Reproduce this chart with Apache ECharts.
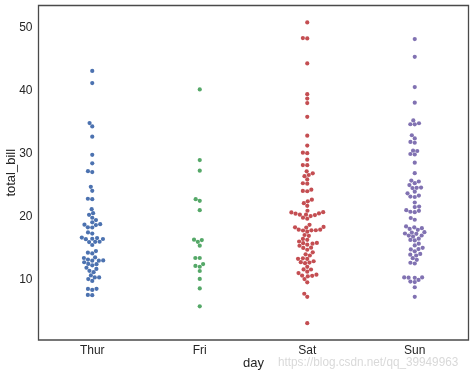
<!DOCTYPE html>
<html><head><meta charset="utf-8">
<script src="https://cdn.jsdelivr.net/npm/echarts@6/dist/echarts.min.js"></script>
<style>html,body{margin:0;padding:0;background:#fff}#c{width:474px;height:376px}</style>
</head><body><div id="c"></div>
<script>
const categories = ['Thur', 'Fri', 'Sat', 'Sun'];
const thurBills = [27.2,22.76,17.29,19.44,16.66,10.07,32.68,15.98,34.83,13.03,18.28,24.71,21.16,
  10.65,12.43,24.08,11.69,13.42,14.26,15.95,12.48,29.8,8.52,14.52,11.38,22.82,19.08,20.27,11.17,12.26,18.26,8.51,10.33,14.15,16.0,13.16,17.47,34.3,41.19,27.05,16.43,8.35,18.64,11.87,9.78,7.51,
  19.81,28.44,15.48,16.58,7.56,10.34,43.11,13.0,13.51,18.71,12.74,13.0,16.4,20.53,16.47,18.78];
const friBills = [28.97,22.49,5.75,16.32,22.75,40.17,27.28,12.03,21.01,12.46,11.35,15.38,
  12.16,13.42,8.58,15.98,13.42,16.27,10.09];
const satBills = [20.65,17.92,20.29,15.77,39.42,19.82,17.81,13.37,12.69,21.7,19.65,9.55,18.35,15.06,20.69,17.78,24.06,16.31,16.93,18.69,31.27,16.04,
  38.01,26.41,11.24,48.27,20.29,13.81,11.02,18.29,17.59,20.08,16.45,3.07,20.23,15.01,12.02,17.07,26.86,25.28,14.73,10.51,17.92,
  44.3,22.42,20.92,15.36,20.49,25.21,18.24,14.31,14.0,7.25,
  10.59,10.63,50.81,15.81,
  26.59,38.73,24.27,12.76,30.06,25.89,48.33,13.27,28.17,12.9,28.15,11.59,7.74,30.14,
  20.45,13.28,22.12,24.01,15.69,11.61,10.77,15.53,10.07,12.6,32.83,35.83,29.03,27.18,22.67,17.82];
const sunBills = [16.99,10.34,21.01,23.68,24.59,25.29,8.77,26.88,15.04,14.78,10.27,35.26,15.42,18.43,14.83,21.58,10.33,16.29,16.97,
  17.46,13.94,9.68,30.4,18.29,22.23,32.4,28.55,18.04,12.54,10.29,34.81,9.94,25.56,19.49,
  38.07,23.95,25.71,17.31,29.93,
  14.07,13.13,17.26,24.55,19.77,29.85,48.17,25.0,13.39,16.49,21.5,12.66,16.21,13.81,17.51,24.52,20.76,31.71,
  7.25,31.85,16.82,32.9,17.89,14.48,9.6,34.63,34.65,23.33,45.35,23.17,40.55,20.69,20.9,30.46,18.15,23.1,15.69];
const yTickValues = [10, 20, 30, 40, 50];
const groups = [thurBills, friBills, satBills, sunBills];

const palette = ['#4C72B0', '#55A868', '#C44E52', '#8172B2'];
const FONT = '"Liberation Sans", Arial, sans-serif';
const DOT = 4.2;      // swarm collision diameter (px)
const MARK = 4.2;     // drawn marker size (px)

const chart = echarts.init(document.getElementById('c'), null, {renderer: 'canvas'});
chart.setOption({
  animation: false,
  backgroundColor: '#ffffff',
  grid: {left: 38.5, right: 5.5, top: 5.5, bottom: 36, containLabel: false, outerBoundsMode: 'none',
    show: true, borderColor: '#4a4a4a', borderWidth: 1.3, backgroundColor: '#ffffff'},
  xAxis: [
    {type: 'category', data: categories, boundaryGap: true,
     axisLine: {show: false}, axisTick: {show: false}, splitLine: {show: false},
     axisLabel: {color: '#262626', fontFamily: FONT, fontSize: 12, margin: 5},
     name: 'day', nameLocation: 'middle', nameGap: 17, nameMoveOverlap: false,
     nameTextStyle: {color: '#262626', fontFamily: FONT, fontSize: 13}},
    {type: 'value', min: -0.5, max: 3.5, show: false}
  ],
  yAxis: {type: 'value', min: 0.4, max: 53.5,
    axisLine: {show: false}, axisTick: {show: false}, splitLine: {show: false},
    axisLabel: {customValues: yTickValues, color: '#262626', fontFamily: FONT, fontSize: 12, margin: 6},
    name: 'total_bill', nameLocation: 'middle', nameGap: 21, nameRotate: 90, nameMoveOverlap: false,
    nameTextStyle: {color: '#262626', fontFamily: FONT, fontSize: 13}},
  graphic: [{type: 'text', x: 278, y: 355, scaleX: 0.87, silent: true,
    style: {text: 'https://blog.csdn.net/qq_39949963', fill: '#d9d9d9', font: '13.5px ' + FONT}}]
});

// seaborn-style beeswarm layout computed in pixel space
function beeswarm(xc, pts, d) {
  const swarm = [];
  pts.forEach(function (p, idx) {
    const yi = p.y;
    if (idx === 0) { swarm.push({x: xc, y: yi, v: p.v}); return; }
    const neigh = [];
    for (let j = swarm.length - 1; j >= 0; j--) {
      if (yi - swarm[j].y < d) neigh.unshift(swarm[j]); else break;
    }
    let cands = [xc];
    let leftFirst = true;
    neigh.forEach(function (n) {
      const dy = yi - n.y;
      const dx = Math.sqrt(Math.max(d * d - dy * dy, 0)) * 1.05;
      const l = n.x - dx, r = n.x + dx;
      if (leftFirst) cands.push(l, r); else cands.push(r, l);
      leftFirst = !leftFirst;
    });
    cands = cands.map(function (c, k) { return {c: c, k: k}; })
      .sort(function (a, b) { const da = Math.abs(a.c - xc), db = Math.abs(b.c - xc); return da - db || a.k - b.k; })
      .map(function (o) { return o.c; });
    let chosen = cands[0];
    if (neigh.length) {
      for (let ci = 0; ci < cands.length; ci++) {
        const x = cands[ci];
        let ok = true;
        for (let m = 0; m < neigh.length; m++) {
          const ddx = neigh[m].x - x, ddy = neigh[m].y - yi;
          if (ddx * ddx + ddy * ddy < d * d - 1e-9) { ok = false; break; }
        }
        if (ok) { chosen = x; break; }
      }
    }
    swarm.push({x: chosen, y: yi, v: p.v});
  });
  return swarm;
}

const series = groups.map(function (vals, gi) {
  const xc = chart.convertToPixel({xAxisIndex: 1}, gi);
  const pts = vals.slice().sort(function (a, b) { return a - b; }).map(function (v) {
    return {v: v, y: -chart.convertToPixel({yAxisIndex: 0}, v)};
  });
  const sw = beeswarm(xc, pts, DOT);
  return {
    type: 'scatter', name: categories[gi], xAxisIndex: 1, yAxisIndex: 0,
    symbol: 'circle', symbolSize: MARK,
    itemStyle: {color: palette[gi], opacity: 1},
    data: sw.map(function (s) { return [chart.convertFromPixel({xAxisIndex: 1}, s.x), s.v]; })
  };
});
chart.setOption({series: series});
</script></body></html>
